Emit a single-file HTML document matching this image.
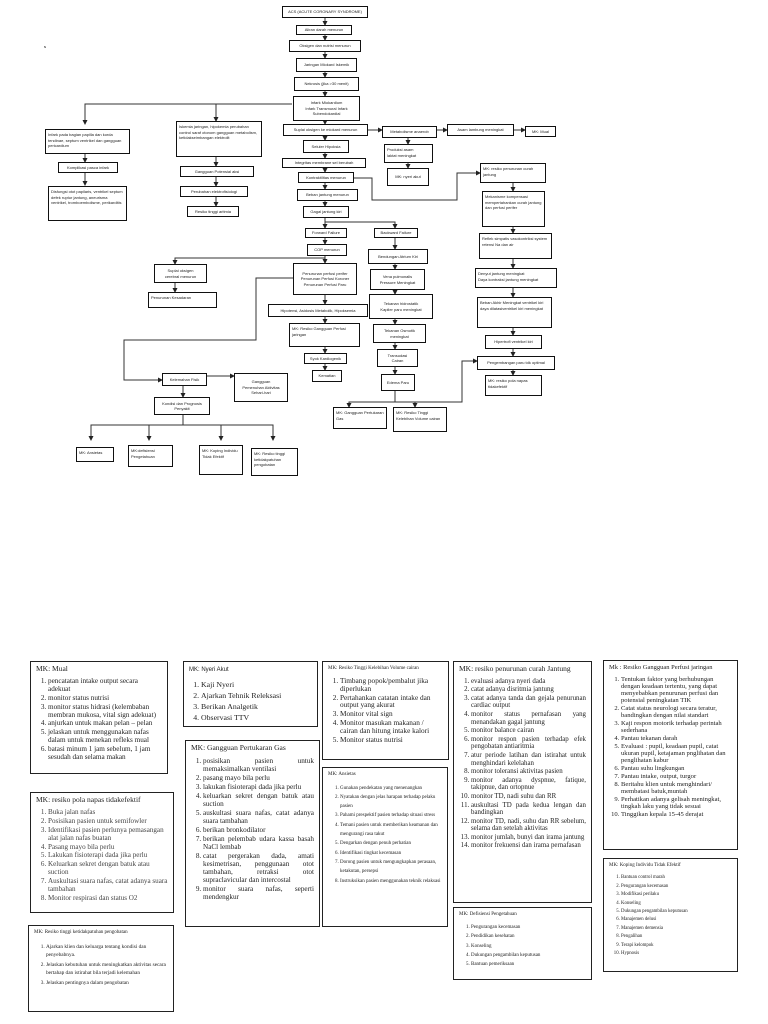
<!DOCTYPE html>
<html><head><meta charset="utf-8">
<style>
body{margin:0;background:#fff;}
#c{position:relative;width:768px;height:1024px;overflow:hidden;background:#fff;}
.b{position:absolute;box-sizing:border-box;border:1.2px solid #111;font-family:"Liberation Sans",sans-serif;font-size:4px;line-height:5.5px;color:#222;display:flex;align-items:center;justify-content:center;text-align:center;padding:1px 2px;background:#fff;}
.l{justify-content:flex-start;text-align:left;align-items:flex-start;padding-top:2px;}
.t{position:absolute;box-sizing:border-box;border:1.2px solid #222;font-family:"Liberation Serif",serif;color:#222;background:#fff;padding:3px 5px;overflow:hidden;}
.t h4{margin:0 0 5px 0;font-weight:normal;font-size:7.5px;}
.t ol{margin:0;padding-left:12px;}
.t li{margin-bottom:1px;}
svg{position:absolute;left:0;top:0;}
</style></head><body><div id="c">
<svg width="768" height="1024">
<defs><marker id="a" markerWidth="5" markerHeight="5" refX="4" refY="2.5" orient="auto"><path d="M0,0 L5,2.5 L0,5 z" fill="#222"/></marker></defs>
<g stroke="#333" stroke-width="1" fill="none" marker-end="url(#a)">
<path d="M325 17V25"/><path d="M325 34V40"/><path d="M325 52V58"/><path d="M325 72V77"/><path d="M325 91V96"/>
<path d="M325 121V124"/><path d="M325 136V140"/><path d="M325 153V158"/><path d="M325 168V172"/><path d="M325 183V189"/><path d="M325 201V206"/>
<path d="M368 130H382"/><path d="M437 130H447"/><path d="M514 130H525"/>
<path d="M408 138V144"/><path d="M408 163V168"/>
<path d="M292 104H85V124"/><path d="M216 104V121"/>
<path d="M85 154V162"/><path d="M85 173V185"/>
<path d="M216 157V166"/><path d="M216 177V186"/><path d="M216 197V206"/>
<path d="M354 178H372V200H457V173H480"/>
<path d="M513 183V191"/><path d="M513 227V233"/><path d="M513 259V268"/><path d="M513 288V297"/><path d="M513 328V335"/><path d="M513 349V356"/><path d="M513 370V375"/>
<path d="M325 218V222H395V228"/><path d="M325 222V228"/>
<path d="M325 238V244"/><path d="M395 238V249"/>
<path d="M325 256V258H175V264"/><path d="M325 258V263"/>
<path d="M175 283V292"/>
<path d="M395 264V269"/><path d="M395 290V294"/><path d="M395 319V324"/><path d="M395 343V349"/><path d="M395 367V374"/>
<path d="M395 391V402H349V407"/><path d="M395 402H415V407"/><path d="M415 402H462V361H477"/>
<path d="M325 295V304"/><path d="M325 317V323"/><path d="M325 347V353"/><path d="M325 364V370"/>
<path d="M293 278H256V340H124V380H162"/>
<path d="M207 376H234"/>
<path d="M183 386V397"/>
<path d="M183 415V425H91V440"/><path d="M149 425V440"/><path d="M183 425H221V440"/><path d="M221 425H273V440"/>
</g>
</svg>
<div style="position:absolute;left:44px;top:44px;font-size:4px;font-family:'Liberation Sans'">s</div>

<div class="b" style="left:282px;top:6px;width:86px;height:12px">ACS (ACUTE CORONARY SYNDROME)</div>
<div class="b" style="left:296px;top:25px;width:56px;height:10px">Aliran darah menurun</div>
<div class="b" style="left:289px;top:40px;width:72px;height:12px">Oksigen dan nutrisi menurun</div>
<div class="b" style="left:296px;top:58px;width:61px;height:14px">Jaringan Miokard Iskemik</div>
<div class="b" style="left:294px;top:77px;width:65px;height:14px">Nekrosis (jika &gt;30 menit)</div>
<div class="b" style="left:293px;top:96px;width:67px;height:25px">Infark Miokardium<br>Infark Transmural Infark<br>Subendokardial</div>
<div class="b" style="left:283px;top:124px;width:85px;height:12px">Suplai oksigen ke miokard menurun</div>
<div class="b" style="left:382px;top:126px;width:55px;height:12px">Metabolisme anaerob</div>
<div class="b" style="left:447px;top:124px;width:67px;height:12px">Asam lambung meningkat</div>
<div class="b" style="left:525px;top:126px;width:31px;height:11px">MK: Mual</div>
<div class="b l" style="left:384px;top:144px;width:49px;height:19px">Produksi asam<br>laktat meningkat</div>
<div class="b" style="left:387px;top:168px;width:42px;height:18px">MK: nyeri akut</div>
<div class="b" style="left:303px;top:140px;width:46px;height:13px">Seluler Hipoksia</div>
<div class="b" style="left:282px;top:158px;width:84px;height:10px">Integritas membrane sel berubah</div>
<div class="b" style="left:298px;top:172px;width:56px;height:11px">Kontraktilitas menurun</div>
<div class="b" style="left:297px;top:189px;width:61px;height:12px">Beban jantung menurun</div>
<div class="b" style="left:303px;top:206px;width:46px;height:12px">Gagal jantung kiri</div>
<div class="b l" style="left:45px;top:129px;width:85px;height:25px">Infark pada bagian papilla dan korda tendinae, septum ventrikel dan gangguan pericardium</div>
<div class="b" style="left:58px;top:162px;width:60px;height:11px">Komplikasi pasca infark</div>
<div class="b l" style="left:48px;top:186px;width:79px;height:35px">Disfungsi otot papilaris, ventrikel septum defek ruptur jantung, aneurisma ventrikel, tromboembolisme, perikarditis</div>
<div class="b l" style="left:176px;top:121px;width:86px;height:36px">Iskemia jaringan, hipokemia perubahan control saraf otonom gangguan metabolism, ketidakseimbangan elektrolit</div>
<div class="b" style="left:180px;top:166px;width:74px;height:11px">Gangguan Potensial aksi</div>
<div class="b" style="left:180px;top:186px;width:68px;height:11px">Perubahan elektrofisiologi</div>
<div class="b" style="left:187px;top:206px;width:52px;height:11px">Resiko tinggi aritmia</div>
<div class="b l" style="left:480px;top:163px;width:66px;height:20px">MK: resiko penurunan curah jantung</div>
<div class="b l" style="left:482px;top:191px;width:63px;height:36px">Mekanisme kompensasi mempertahankan curah jantung dan perfusi perifer</div>
<div class="b l" style="left:479px;top:233px;width:73px;height:26px">Reflek simpatis vasokontriksi system retensi Na dan air</div>
<div class="b l" style="left:475px;top:268px;width:82px;height:20px">Denyut jantung meningkat<br>Daya kontraksi jantung meningkat</div>
<div class="b l" style="left:477px;top:297px;width:75px;height:31px">Beban Akhir Meningkat ventrikel kiri daya dilatasiventrikel kiri meningkat</div>
<div class="b" style="left:485px;top:335px;width:57px;height:14px">Hipertrofi ventrikel kiri</div>
<div class="b" style="left:477px;top:356px;width:78px;height:14px">Pengembangan paru tdk optimal</div>
<div class="b l" style="left:485px;top:375px;width:57px;height:21px">MK: resiko pola napas tidakefektif</div>
<div class="b" style="left:305px;top:228px;width:42px;height:10px">Forward Failure</div>
<div class="b" style="left:374px;top:228px;width:44px;height:10px">Backward Failure</div>
<div class="b" style="left:307px;top:244px;width:40px;height:12px">COP menurun</div>
<div class="b" style="left:368px;top:249px;width:60px;height:15px">Bendungan Atrium Kiri</div>
<div class="b" style="left:370px;top:269px;width:55px;height:21px">Vena pulmonalis<br>Pressure Meningkat</div>
<div class="b" style="left:369px;top:294px;width:64px;height:25px">Tekanan hidrostatik<br>Kapiler paru meningkat</div>
<div class="b" style="left:373px;top:324px;width:53px;height:19px">Tekanan Osmotik<br>meningkat</div>
<div class="b" style="left:377px;top:349px;width:41px;height:18px">Transudasi<br>Cairan</div>
<div class="b" style="left:381px;top:374px;width:34px;height:17px">Edema Paru</div>
<div class="b l" style="left:333px;top:407px;width:54px;height:22px">MK: Gangguan Pertukaran Gas</div>
<div class="b l" style="left:393px;top:407px;width:54px;height:25px">MK: Resiko Tinggi Kelebihan Volume cairan</div>
<div class="b" style="left:154px;top:264px;width:53px;height:19px">Suplai oksigen<br>cerebral menurun</div>
<div class="b l" style="left:148px;top:292px;width:69px;height:16px">Penurunan Kesadaran</div>
<div class="b" style="left:293px;top:263px;width:64px;height:32px">Penurunan perfusi perifer<br>Penurunan Perfusi Koroner<br>Penurunan Perfusi Paru</div>
<div class="b" style="left:268px;top:304px;width:100px;height:13px">Hipotensi, Asidosis Metabolik, Hipoksemia</div>
<div class="b l" style="left:289px;top:323px;width:71px;height:24px">MK: Resiko Gangguan Perfusi jaringan</div>
<div class="b" style="left:304px;top:353px;width:43px;height:11px">Syok Kardiogenik</div>
<div class="b" style="left:312px;top:370px;width:30px;height:12px">Kematian</div>
<div class="b" style="left:162px;top:373px;width:45px;height:13px">Kelemahan Fisik</div>
<div class="b" style="left:234px;top:373px;width:54px;height:29px">Gangguan<br>Pemenuhan Aktivitas<br>Sehari-hari</div>
<div class="b" style="left:154px;top:397px;width:56px;height:18px">Kondisi dan Prognosis<br>Penyakit</div>
<div class="b l" style="left:76px;top:447px;width:38px;height:15px">MK: Ansietas</div>
<div class="b l" style="left:128px;top:445px;width:45px;height:22px">MK:defisiensi Pengetahuan</div>
<div class="b l" style="left:199px;top:445px;width:44px;height:30px">MK: Koping Individu Tidak Efektif</div>
<div class="b l" style="left:251px;top:448px;width:47px;height:28px">MK: Resiko tinggi ketidakpatuhan pengobatan</div>

<div class="t" style="left:30px;top:661px;width:138px;height:113px;font-size:7.2px;line-height:7.9px">
<h4>MK: Mual</h4><ol>
<li>pencatatan intake output secara adekuat</li><li>monitor status nutrisi</li><li>monitor status hidrasi (kelembaban membran mukosa, vital sign adekuat)</li><li>anjurkan untuk makan pelan – pelan</li><li>jelaskan untuk menggunakan nafas dalam untuk menekan refleks mual</li><li>batasi minum 1 jam sebelum, 1 jam sesudah dan selama makan</li></ol></div>
<div class="t" style="left:183px;top:661px;width:135px;height:66px;font-size:7.8px;line-height:10px">
<h4 style="font-family:'Liberation Sans';font-size:6px">MK: Nyeri Akut</h4><ol>
<li>Kaji Nyeri</li><li>Ajarkan Tehnik Releksasi</li><li>Berikan Analgetik</li><li>Observasi TTV</li></ol></div>
<div class="t" style="left:185px;top:740px;width:135px;height:187px;font-size:7.2px;line-height:8px;text-align:justify">
<h4>MK: Gangguan Pertukaran Gas</h4><ol>
<li>posisikan pasien untuk memaksimalkan ventilasi</li><li>pasang mayo bila perlu</li><li>lakukan fisioterapi dada jika perlu</li><li>keluarkan sekret dengan batuk atau suction</li><li>auskultasi suara nafas, catat adanya suara tambahan</li><li>berikan bronkodilator</li><li>berikan pelembab udara kassa basah NaCl lembab</li><li>catat pergerakan dada, amati kesimetrisan, penggunaan otot tambahan, retraksi otot supraclavicular dan intercostal</li><li>monitor suara nafas, seperti mendengkur</li></ol></div>
<div class="t" style="left:30px;top:792px;width:144px;height:121px;font-size:7.1px;line-height:7.9px;color:#444">
<h4 style="color:#222">MK: resiko pola napas tidakefektif</h4><ol>
<li>Buka jalan nafas</li><li>Posisikan pasien untuk semifowler</li><li>Identifikasi pasien perlunya pemasangan alat jalan nafas buatan</li><li>Pasang mayo bila perlu</li><li>Lakukan fisioterapi dada jika perlu</li><li>Keluarkan sekret dengan batuk atau suction</li><li>Auskultasi suara nafas, catat adanya suara tambahan</li><li>Monitor respirasi dan status O2</li></ol></div>
<div class="t" style="left:28px;top:925px;width:146px;height:87px;font-size:5.3px;line-height:8.5px">
<h4 style="font-size:5px">MK: Resiko tinggi ketidakpatuhan pengobatan</h4><ol>
<li>Ajarkan klien dan keluarga tentang kondisi dan penyebabnya.</li><li>Jelaskan kebutuhan untuk meningkatkan aktivitas secara bertahap dan istirahat bila terjadi kelemahan</li><li>Jelaskan pentingnya dalam pengobatan</li></ol></div>
<div class="t" style="left:322px;top:661px;width:127px;height:99px;font-size:7.3px;line-height:7.8px">
<h4 style="font-size:5px;line-height:7px">MK: Resiko Tinggi Kelebihan Volume cairan</h4><ol>
<li>Timbang popok/pembalut jika diperlukan</li><li>Pertahankan catatan intake dan output yang akurat</li><li>Monitor vital sign</li><li>Monitor masukan makanan / cairan dan hitung intake kalori</li><li>Monitor status nutrisi</li></ol></div>
<div class="t" style="left:322px;top:767px;width:126px;height:160px;font-size:5px;line-height:8.6px">
<h4 style="font-size:5px">MK: Ansietas</h4><ol>
<li>Gunakan pendekatan yang menenangkan</li><li>Nyatakan dengan jelas harapan terhadap pelaku pasien</li><li>Pahami prespektif pasien terhadap situasi stress</li><li>Temani pasien untuk memberikan keamanan dan mengurangi rasa takut</li><li>Dengarkan dengan penuh perhatian</li><li>Identifikasi tingkat kecemasan</li><li>Dorong pasien untuk mengungkapkan perasaan, ketakutan, persepsi</li><li>Instruksikan pasien menggunakan teknik relaksasi</li></ol></div>
<div class="t" style="left:453px;top:661px;width:139px;height:242px;font-size:6.9px;line-height:7.6px;text-align:justify">
<h4>MK: resiko penurunan curah Jantung</h4><ol>
<li>evaluasi adanya nyeri dada</li><li>catat adanya disritmia jantung</li><li>catat adanya tanda dan gejala penurunan cardiac output</li><li>monitor status pernafasan yang menandakan gagal jantung</li><li>monitor balance cairan</li><li>monitor respon pasien terhadap efek pengobatan antiaritmia</li><li>atur periode latihan dan istirahat untuk menghindari kelelahan</li><li>monitor toleransi aktivitas pasien</li><li>monitor adanya dyspnue, fatique, takipnue, dan ortopnue</li><li>monitor TD, nadi suhu dan RR</li><li>auskultasi TD pada kedua lengan dan bandingkan</li><li>monitor TD, nadi, suhu dan RR sebelum, selama dan setelah aktivitas</li><li>monitor jumlah, bunyi dan irama jantung</li><li>monitor frekuensi dan irama pernafasan</li></ol></div>
<div class="t" style="left:453px;top:907px;width:139px;height:73px;font-size:5px;line-height:8.2px">
<h4 style="font-size:5px">MK: Defisiensi Pengetahuan</h4><ol>
<li>Pengurangan kecemasan</li><li>Pendidikan kesehatan</li><li>Konseling</li><li>Dukungan pengambilan keputusan</li><li>Bantuan pemeriksaan</li></ol></div>
<div class="t" style="left:603px;top:660px;width:135px;height:190px;font-size:6.6px;line-height:7px">
<h4 style="font-size:6.5px">Mk : Resiko Gangguan Perfusi jaringan</h4><ol>
<li>Tentukan faktor yang berhubungan dengan keadaan tertentu, yang dapat menyebabkan penurunan perfusi dan potensial peningkatan TIK</li><li>Catat status neurologi secara teratur, bandingkan dengan nilai standart</li><li>Kaji respon motorik terhadap perintah sederhana</li><li>Pantau tekanan darah</li><li>Evaluasi : pupil, keadaan pupil, catat ukuran pupil, ketajaman pnglihatan dan penglihatan kabur</li><li>Pantau suhu lingkungan</li><li>Pantau intake, output, turgor</li><li>Beritahu klien untuk menghindari/ membatasi batuk,muntah</li><li>Perhatikan adanya gelisah meningkat, tingkah laku yang tidak sesuai</li><li>Tinggikan kepala 15-45 derajat</li></ol></div>
<div class="t" style="left:603px;top:858px;width:135px;height:114px;font-size:4.8px;line-height:7.4px">
<h4 style="font-size:5px">MK: Koping Individu Tidak Efektif</h4><ol>
<li>Bantuan control marah</li><li>Pengurangan kecemasan</li><li>Modifikasi perilaku</li><li>Konseling</li><li>Dukungan pengambilan keputusan</li><li>Manajemen delusi</li><li>Manajemen demensia</li><li>Pengalihan</li><li>Terapi kelompok</li><li>Hypnosis</li></ol></div>
</div></body></html>
